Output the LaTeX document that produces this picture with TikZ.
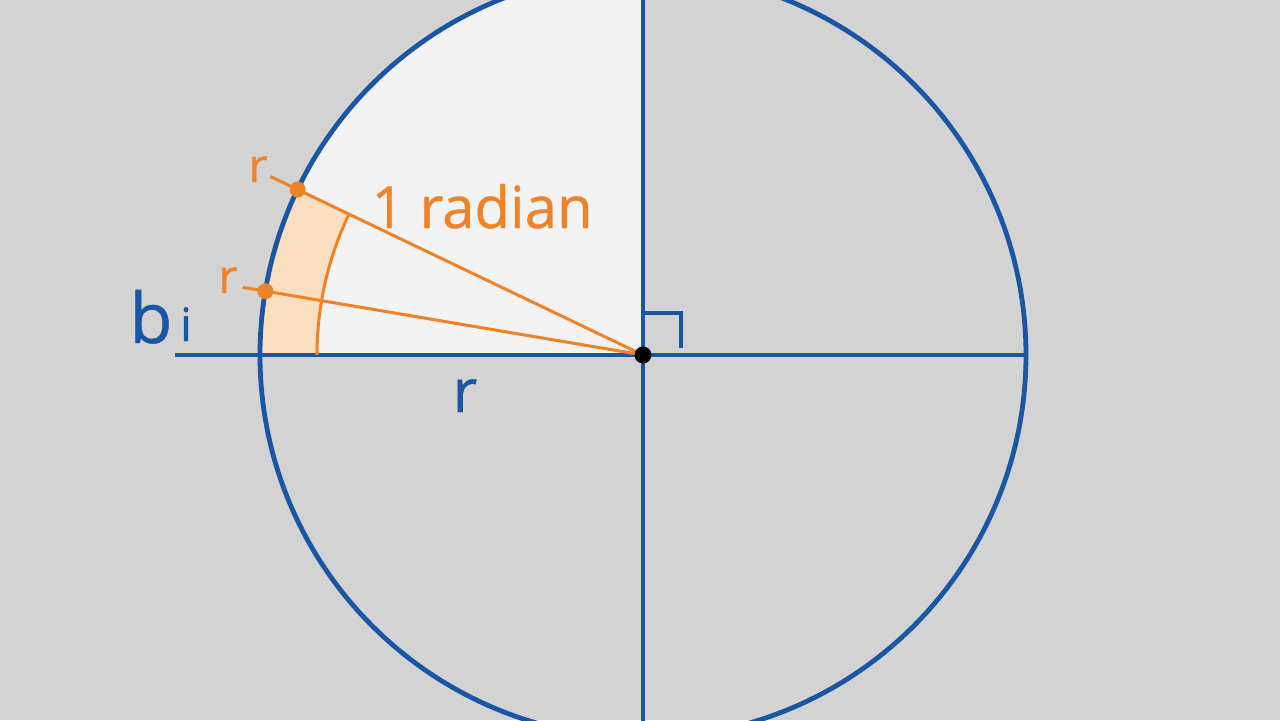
\documentclass[tikz,border=0pt]{standalone}
\usepackage{fontspec}
\setmainfont{Open Sans}[UprightFeatures={FakeBold=0.6}]
\definecolor{bggray}{HTML}{D3D3D3}
\definecolor{pale}{HTML}{F3F3F3}
\definecolor{cblue}{HTML}{1A56A4}
\definecolor{corange}{HTML}{F08228}
\definecolor{peach}{HTML}{FADEC0}
\begin{document}
\begin{tikzpicture}[x=0.5pt, y=0.5pt,
        axis/.style={cblue, line width=2.4pt},
        ray/.style={corange, line width=1.5pt},
        lbl/.style={inner sep=0pt, anchor=base}]
            \useasboundingbox (-643,-365) rectangle (637,355);
            \clip (-643,-365) rectangle (637,355);
            \fill[bggray] (-643,-365) rectangle (637,355);
            % quarter and band
            \fill[pale] (0,0) -- (180:383) arc (180:90:383) -- cycle;
            \fill[peach] (180:326) -- (180:383) arc (180:154.4:383) -- (154.4:326) arc (154.4:180:326) -- cycle;
            \coordinate (O) at (0,0);
            \coordinate (W) at (-468,0);
            \coordinate (E) at (383,0);
            \coordinate (N) at (0,360);
            \coordinate (S) at (0,-370);
            \draw[axis] (W) -- (E);
            \draw[axis] (N) -- (S);
            \draw[axis] (O) circle (383);
            % rays
            \foreach \a/\t/\n in {154.4/413/1, 170.4/406/2} {
                    \coordinate (P\n) at (\a:383);
                    \coordinate (T\n) at (\a:\t);
                    \draw[ray] (O) -- (P\n);
                    \draw[ray] (P\n) -- (T\n);
                }
            \draw[ray] (180:326) arc (180:154.4:326);
            \foreach \n in {1,2} {
                    \fill[corange] (P\n) circle (8);
                }
            % right angle
            \coordinate (Q1) at (2,42);
            \coordinate (Q2) at (38,42);
            \coordinate (Q3) at (38,7);
            \draw[axis] (Q1) -- (Q2) -- (Q3);
            \fill[black] (O) circle (8.5);
            % labels
            \node[lbl, corange, font=\fontsize{29}{30}\selectfont] (rad) at (-161,127) {1 radian};
            \node[lbl, corange, font=\fontsize{23.5}{25}\selectfont] (r1) at (-385,173) {r};
            \node[lbl, corange, font=\fontsize{23.5}{25}\selectfont] (r2) at (-415,62) {r};
            \node[lbl, cblue, font=\fontsize{30}{32}\selectfont] (r3) at (-178,-57) {r};
            \node[lbl, cblue, font=\fontsize{35}{36}\selectfont] (b) at (-492,12) {b};
            \node[lbl, cblue, font=\fontsize{23}{24}\selectfont] (i) at (-457,14) {i};
        \end{tikzpicture}
\end{document}
